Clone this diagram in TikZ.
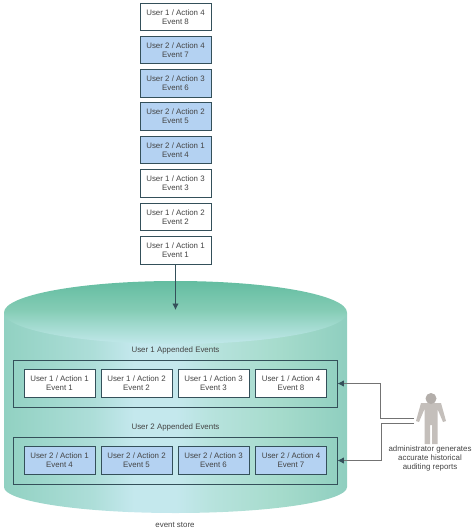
\documentclass[tikz,border=0pt]{standalone}
\usepackage{fontspec}
\setmainfont{Liberation Sans}
\usetikzlibrary{arrows.meta}
\definecolor{ink}{HTML}{34505A}
\definecolor{txt}{HTML}{444444}
\definecolor{ublue}{HTML}{B4D2F2}
\definecolor{personc}{HTML}{C4BFBB}
\definecolor{headc}{HTML}{B3AEAA}
\pgfdeclarehorizontalshading{cylbody}{100bp}{
  rgb(0bp)=(0.57,0.82,0.76);
  rgb(25bp)=(0.57,0.82,0.76);
  rgb(38bp)=(0.68,0.87,0.85);
  rgb(44bp)=(0.77,0.91,0.93);
  rgb(50bp)=(0.77,0.91,0.93);
  rgb(55bp)=(0.72,0.89,0.87);
  rgb(65bp)=(0.65,0.86,0.80);
  rgb(75bp)=(0.56,0.81,0.75);
  rgb(100bp)=(0.56,0.81,0.75)
}
\pgfdeclareverticalshading{cylcap}{100bp}{
  rgb(0bp)=(0.76,0.91,0.92);
  rgb(25bp)=(0.76,0.91,0.92);
  rgb(41bp)=(0.62,0.85,0.80);
  rgb(52bp)=(0.52,0.80,0.71);
  rgb(75bp)=(0.39,0.74,0.63);
  rgb(100bp)=(0.39,0.74,0.63)
}
\tikzset{
  x=1pt,y=-1pt,
  evbox/.style={draw=ink,line width=0.9pt,minimum width=71pt,minimum height=27.5pt,inner sep=0pt,
    align=center,font=\fontsize{7.9}{9}\selectfont,text=txt},
  ev1/.style={evbox,fill=white},
  ev2/.style={evbox,fill=ublue},
  groupbox/.style={draw=ink,line width=0.9pt,minimum width=324pt,minimum height=47pt,inner sep=0pt},
  lab/.style={font=\fontsize{7.9}{9}\selectfont,text=txt,align=center,inner sep=0pt},
  arr/.style={draw=ink,line width=0.9pt,-{Latex[length=6.5pt,width=6.5pt,color=ink]}},
}
\begin{document}
\begin{tikzpicture}
\useasboundingbox (0,0) rectangle (474,532);
% cylinder
\shade[shading=cylbody] (4,313) -- (347,313) -- (347,487) arc[start angle=0,end angle=180,x radius=171.5,y radius=26] -- cycle;
\shade[shading=cylcap] (175.5,312.5) ellipse[x radius=171.5,y radius=31.5];
% stack
\node[ev1] (s8) at (175.5,17) {User 1 / Action 4\\Event 8};
\node[ev2] (s7) at (175.5,50) {User 2 / Action 4\\Event 7};
\node[ev2] (s6) at (175.5,83.3) {User 2 / Action 3\\Event 6};
\node[ev2] (s5) at (175.5,116.6) {User 2 / Action 2\\Event 5};
\node[ev2] (s4) at (175.5,150) {User 2 / Action 1\\Event 4};
\node[ev1] (s3) at (175.5,183.5) {User 1 / Action 3\\Event 3};
\node[ev1] (s2) at (175.5,217) {User 1 / Action 2\\Event 2};
\node[ev1] (s1) at (175.5,250.5) {User 1 / Action 1\\Event 1};
\coordinate (drop) at (175.5,310);
\draw[arr] (s1.south) -- (drop);
% groups
\node[lab] (l1) at (175.5,350) {User 1 Appended Events};
\node[groupbox] (g1) at (175,383.5) {};
\node[ev1] (a1) at (59.5,383.5) {User 1 / Action 1\\Event 1};
\node[ev1] (a2) at (136.5,383.5) {User 1 / Action 2\\Event 2};
\node[ev1] (a3) at (213.5,383.5) {User 1 / Action 3\\Event 3};
\node[ev1] (a4) at (291,383.5) {User 1 / Action 4\\Event 8};
\node[lab] (l2) at (175.5,427) {User 2 Appended Events};
\node[groupbox] (g2) at (175,460.5) {};
\node[ev2] (b1) at (59.5,460.5) {User 2 / Action 1\\Event 4};
\node[ev2] (b2) at (136.5,460.5) {User 2 / Action 2\\Event 5};
\node[ev2] (b3) at (213.5,460.5) {User 2 / Action 3\\Event 6};
\node[ev2] (b4) at (291,460.5) {User 2 / Action 4\\Event 7};
\node[lab] (store) at (175,524.5) {event store};
% administrator
\fill[personc] (421,403) -- (441,403) -- (446,421) -- (443,422) -- (437.5,409) -- (437.5,444) -- (432,444) -- (432,425) -- (430,425) -- (430,444) -- (424.5,444) -- (424.5,409) -- (419,422) -- (416,421) -- cycle;
\fill[headc] (431,398.5) circle[radius=5.5];
\node[lab] (admin) at (430,458.5) {administrator generates\\accurate historical\\auditing reports};
\coordinate (p1) at (414,418);
\coordinate (p2) at (414,423);
\coordinate (c1) at (380.5,418);
\coordinate (c2) at (381,423);
\draw[arr,draw=black!55] (p1) -- (c1) |- (g1.east);
\draw[arr,draw=black!55] (p2) -- (c2) |- (g2.east);
\end{tikzpicture}
\end{document}
